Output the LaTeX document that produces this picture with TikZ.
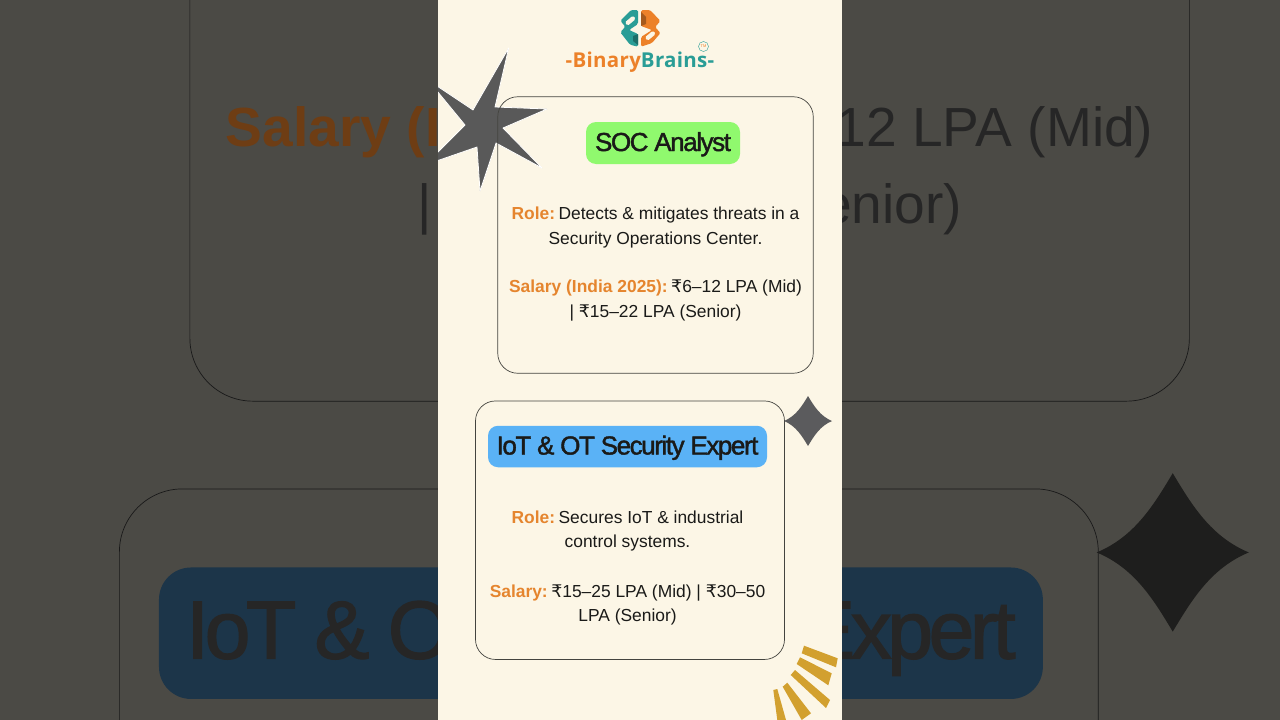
\documentclass[tikz,border=0pt]{standalone}
\usepackage{fontspec}
\setmainfont{Liberation Sans}
\newfontfamily\titlefont[LetterSpace=-5.5,FakeBold=1.6]{Liberation Sans}
\newfontfamily\logofont[LetterSpace=1.5]{Open Sans}
\newfontfamily\rupeefont{DejaVu Sans}
\definecolor{panelbg}{HTML}{FCF6E6}
\definecolor{dimbg}{HTML}{4B4A45}
\definecolor{logoteal}{HTML}{2A9D96}
\definecolor{logoorange}{HTML}{EC8129}
\definecolor{raygold}{HTML}{D2A02F}
\tikzset{x=1pt,y=-1pt,
	card/.style = {draw=cardline, line width=0.7pt, rounded corners=\cardradius, inner sep=0pt},
	pill/.style = {rounded corners=\pillradius, inner sep=0pt, text height=19pt, text depth=3pt, text=cardtext, font=\titlefont\fontsize{26}{30}\selectfont},
	bodytext/.style = {align=center, inner sep=0pt, text=cardtext, font=\fontsize{17.4}{24.4}\selectfont},
}
\newcommand{\rolelabel}[1]{\textcolor{rolecol}{\textbf{#1}}\hspace{0.2em}}
\newcommand{\rupee}{{\rupeefont ₹}}
\newcommand{\slidecards}{
	\node [card, minimum width=315.5pt, minimum height=276.5pt] (soccard) at (655.5,235) {};
	\node [pill, fill=socfill, minimum width=154pt, minimum height=42pt] (soctitle) at (663,143) {SOC Analyst};
	\node [bodytext] (socbody) at (655.5,264) {\rolelabel{Role:}Detects \& mitigates threats in a\\Security Operations Center.\\[24.4pt]\rolelabel{Salary (India 2025):}\rupee6–12 LPA (Mid)\\| \rupee15–22 LPA (Senior)};
	\node [card, minimum width=309pt, minimum height=258.5pt] (iotcard) at (630,530.2) {};
	\node [pill, fill=iotfill, minimum width=279pt, minimum height=41.5pt] (iottitle) at (627.5,446.5) {IoT \& OT Security Expert};
	\node [bodytext] (iotbody) at (627.5,568) {\rolelabel{Role:}Secures IoT \& industrial\\control systems.\\[25pt]\rolelabel{Salary:}\rupee15–25 LPA (Mid) | \rupee30–50\\LPA (Senior)};
	\fill [sparklecol] (808,396) .. controls (814,406) and (820,416) .. (832,421)
		.. controls (820,426) and (814,436) .. (808,446)
		.. controls (802,436) and (796,426) .. (784,421)
		.. controls (796,416) and (802,406) .. (808,396) -- cycle;
}

\begin{document}
\begin{tikzpicture}
	\useasboundingbox (0,0) rectangle (1280,720);
	\fill [dimbg] (0,0) rectangle (1280,720);

	% dimmed copy behind the slide
	\begin{scope}[shift={(-1387,-781.3)}, scale=3.168, transform shape, name prefix=bg-]
		\def\cardradius{63pt}
		\def\pillradius{32pt}
		\colorlet{cardline}{black!90}
		\colorlet{cardtext}{black!85}
		\definecolor{rolecol}{HTML}{6E3D14}
		\definecolor{socfill}{HTML}{2B4A21}
		\definecolor{iotfill}{HTML}{1C3549}
		\definecolor{sparklecol}{HTML}{1E1E1D}
		\slidecards
	\end{scope}

	\fill [panelbg] (438,0) rectangle (842,720);

	% star
	\begin{scope}
		\clip (438,0) rectangle (842,720);
		\path [fill=gray!70!black, draw=white, line width=0.8pt, line join=round]
			(508.7,48) -- (495,107) -- (547,109) -- (503,128) -- (542,168) -- (496,143)
			-- (480,191) -- (477,147) -- (425,165) -- (465,125) -- (428,80) -- (473,110) -- cycle;
	\end{scope}

	% logo
	\fill [logoteal, rounded corners=1.5pt] (638,10) -- (631,10) -- (620.3,20.7) -- (625.3,26.7) -- (620.3,32.3) -- (630,44.7) -- (638,46.7) -- (638,34) -- (629,30) -- (638,24) -- cycle;
	\fill [logoorange, rounded corners=1.5pt] (641,10) -- (650,10) -- (660.5,21) -- (655,27) -- (660.5,33) -- (652,43) -- (641,46.7) -- (641,37) -- (652,30) -- (641,26) -- cycle;
	\fill [black!30!logoorange] (641,12) -- (646,17) -- (646,24) -- (641,26) -- cycle;
	\fill [black!30!logoteal] (638,34) -- (638,45) -- (633,41) -- (633,36) -- cycle;
	\fill [panelbg, rotate around={40:(630.3,20.7)}, rounded corners=1.5pt] (625,18.5) rectangle (635.6,22.9);
	\fill [panelbg, rotate around={40:(650.3,35.7)}, rounded corners=1.5pt] (645,33.5) rectangle (655.6,37.9);
	\node [inner sep=0pt, font=\logofont\bfseries\fontsize{20.5}{24}\selectfont] (wordmark) at (640,62.5) {\textcolor{logoorange}{-Binary}\textcolor{logoteal}{Brains-}};
	\node [draw=logoteal, circle, line width=0.4pt, minimum size=10pt, inner sep=0pt, text=logoorange, font=\fontsize{4}{4}\selectfont] (trademark) at (703.5,46.5) {TM};

	% cards
	\begin{scope}
		\def\cardradius{20pt}
		\def\pillradius{10pt}
		\definecolor{cardline}{HTML}{44443F}
		\definecolor{cardtext}{HTML}{1A1A18}
		\definecolor{rolecol}{HTML}{E5852E}
		\definecolor{socfill}{HTML}{90F96E}
		\definecolor{iotfill}{HTML}{5AB2F6}
		\definecolor{sparklecol}{HTML}{5B5B5D}
		\slidecards
	\end{scope}

	% rays
	\begin{scope}[raygold]
		\fill (804,645.7) -- (837.7,658.3) -- (836,667.3) -- (801.7,653.3) -- cycle;
		\fill (800,657.3) -- (831.7,673.3) -- (828.3,685.3) -- (796.7,664) -- cycle;
		\fill (795,670) -- (830,700) -- (826,708) -- (790.7,675) -- cycle;
		\fill (787.3,682.7) -- (811,713.3) -- (801.7,720) -- (782.7,686.7) -- cycle;
		\fill (777.3,689) -- (786,720) -- (777.3,720) -- (773.3,690) -- cycle;
	\end{scope}
\end{tikzpicture}
\end{document}
